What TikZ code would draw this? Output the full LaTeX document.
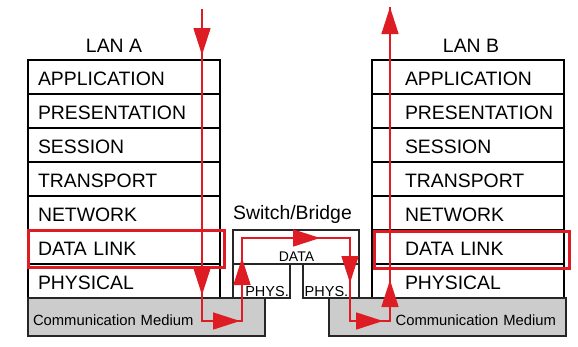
\documentclass[tikz,border=0pt]{standalone}
\usepackage{fontspec}
\setmainfont{Liberation Sans}
\usetikzlibrary{arrows.meta,decorations.markings}
\definecolor{osired}{RGB}{221,28,36}
\definecolor{medgray}{RGB}{204,204,204}
\tikzset{
  bigtri/.tip={Triangle[length=27pt,width=17pt]},
  layerbox/.style={draw=black, line width=1.5pt, anchor=north west, outer sep=0pt,
    minimum width=192pt, minimum height=34pt, inner ysep=0pt,
    text height=16pt, text depth=0pt, align=left,
    font=\fontsize{19.4}{22}\selectfont},
  layerL/.style={layerbox, inner xsep=10pt, text width=172pt},
  layerR/.style={layerbox, inner xsep=0pt, text width=192pt,
    execute at begin node={\hspace*{33pt}}},
  medium/.style={draw=black!85, line width=1.5pt, fill=medgray, anchor=north west,
    outer sep=0pt, minimum width=237pt, minimum height=38pt, inner ysep=0pt,
    text height=16pt, text depth=0pt, font=\fontsize{14.8}{17}\selectfont},
  swbox/.style={draw=black!85, line width=1.2pt, anchor=north west, outer sep=0pt,
    inner sep=0pt, minimum height=34pt},
  title/.style={font=\fontsize{19.4}{22}\selectfont, inner sep=0pt, anchor=base},
  small/.style={font=\fontsize{14.5}{17}\selectfont, inner sep=0pt},
  hlbox/.style={draw=osired, line width=3pt, anchor=north west, inner sep=0pt,
    minimum width=196pt, minimum height=37pt},
  redline/.style={draw=osired, line width=1.6pt},
}
\begin{document}
\begin{tikzpicture}[x=1pt,y=-1pt]
\useasboundingbox (0,0) rectangle (578,346);

% Labels
\node[title] (lana) at (114,52) {LAN A};
\node[title] (lanb) at (471,52) {LAN B};
\node[title, anchor=base west] (swl) at (233,219) {Switch/Bridge};

% LAN A stack
\node[layerL] (a1) at (28,60)  {APPLICATION};
\node[layerL] (a2) at (28,94)  {PRESENTATION};
\node[layerL] (a3) at (28,128) {SESSION};
\node[layerL] (a4) at (28,162) {TRANSPORT};
\node[layerL] (a5) at (28,196) {NETWORK};
\node[layerL] (a6) at (28,230) {DATA LINK};
\node[layerL] (a7) at (28,264) {PHYSICAL};

% LAN B stack
\node[layerR] (b1) at (372,60)  {APPLICATION};
\node[layerR] (b2) at (372,94)  {PRESENTATION};
\node[layerR] (b3) at (372,128) {SESSION};
\node[layerR] (b4) at (372,162) {TRANSPORT};
\node[layerR] (b5) at (372,196) {NETWORK};
\node[layerR] (b6) at (372,230) {DATA LINK};
\node[layerR] (b7) at (372,264) {PHYSICAL};

% Communication media
\node[medium, inner xsep=5pt, text width=227pt, align=left] (ma) at (28,298) {Communication Medium};
\node[medium, inner xsep=10pt, text width=217pt, align=right] (mb) at (329,298) {Communication Medium};

% Switch / Bridge
\node[swbox, minimum width=126pt] (sdata) at (233,230) {};
\node[swbox, minimum width=57pt] (sphysl) at (233,264) {};
\node[swbox, minimum width=56pt] (sphysr) at (303,264) {};
\node[font=\fontsize{14}{17}\selectfont, inner sep=0pt, anchor=base] (tdata) at (296.5,261) {DATA};
\node[small, anchor=base east] (tpl) at (289,296) {PHYS.};
\node[small, anchor=base west] (tpr) at (304.5,296) {PHYS.};

% Highlight boxes
\node[hlbox] (hla) at (27,229) {};
\node[hlbox, minimum width=195pt] (hlb) at (373,230) {};

% Data path
\coordinate (p0) at (202,9);
\coordinate (p1) at (202,321);
\coordinate (p2) at (242,321);
\coordinate (p3) at (242,238);
\coordinate (p4) at (350,238);
\coordinate (p5) at (350,321);
\coordinate (p6) at (390,321);
\coordinate (p7) at (390,7);
\draw[redline, line join=miter, postaction={decorate}, decoration={markings,
    mark=at position 46pt with {\arrow[osired]{bigtri}},
    mark=at position 286pt with {\arrow[osired]{bigtri}},
    mark=at position 350pt with {\arrow[osired]{bigtri}},
    mark=at position 415pt with {\arrow[osired]{bigtri}},
    mark=at position 513pt with {\arrow[osired]{bigtri}},
    mark=at position 588pt with {\arrow[osired]{bigtri}},
    mark=at position 659pt with {\arrow[osired]{bigtri}},
    mark=at position 707pt with {\arrow[osired]{bigtri}},
    mark=at position 979.9pt with {\arrow[osired]{bigtri}}}]
  (p0) -- (p1) -- (p2) -- (p3) -- (p4) -- (p5) -- (p6) -- (p7);
\end{tikzpicture}
\end{document}
